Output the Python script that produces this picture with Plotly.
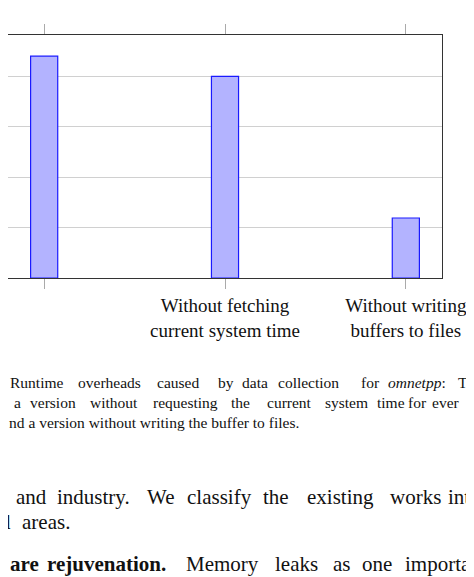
import plotly.graph_objects as go

categories = ["Complete<br>version", "Without fetching<br>current system time", "Without writing<br>buffers to files"]
overheads = [4.4, 4.0, 1.19]
y_ticks = [0, 1, 2, 3, 4]

W, H = 474, 577
L, R, T, B = 0, 434, 27, 270

def px(x):
    return (x - L) / (R - L)

def py(y):
    return (B - y) / (B - T)

fig = go.Figure(go.Bar(
    x=[0, 1, 2], y=overheads, width=0.15,
    marker=dict(color="#b3b3ff", line=dict(color="#1a1aff", width=1.2)),
))

serif = "Liberation Serif"
ann = []
def word(x, y, t, size, anchor="left"):
    ann.append(dict(xref="paper", yref="paper", x=px(x), y=py(y), text=t,
                    showarrow=False, xanchor=anchor, yanchor="middle",
                    font=dict(family=serif, size=size, color="#111")))

cap1 = [(0, "Runtime"), (68, "overheads"), (147, "caused"), (208, "by"), (232, "data"),
        (268, "collection"), (351, "for"), (378, "<i>omnetpp</i>:"), (448, "Th")]
cap2 = [(4, "a"), (20, "version"), (80, "without"), (143, "requesting"), (221, "the"),
        (257, "current"), (315, "system"), (367, "time"), (398, "for"), (422, "ever")]
for x, t in cap1: word(x, 374, t, 15.5)
for x, t in cap2: word(x, 394, t, 15.5)
word(-1, 414, "nd a version without writing the buffer to files.", 15.5)

body1 = [(6, "and"), (47, "industry."), (137, "We"), (177, "classify"), (253, "the"),
         (297, "existing"), (380, "works"), (438, "into")]
for x, t in body1: word(x, 489, t, 21)
word(5, 514, "d", 21, anchor="right")
word(12, 514, "areas.", 21)
body3 = [(0, "<b>are</b>"), (37, "<b>rejuvenation.</b>"), (176, "Memory"), (265, "leaks"),
         (323, "as"), (352, "one"), (395, "important")]
for x, t in body3: word(x, 556, t, 21)

fig.update_layout(
    width=W, height=H, margin=dict(l=L, r=W - R, t=T, b=H - B, autoexpand=False),
    paper_bgcolor="white", plot_bgcolor="white", showlegend=False,
    annotations=ann,
    xaxis=dict(range=[-0.2, 2.2], tickvals=[0, 1, 2], ticktext=categories,
               ticks="outside", ticklen=10, tickcolor="#aaa", mirror="ticks",
               showline=True, linecolor="#333", linewidth=1, showgrid=False,
               automargin=False,
               tickfont=dict(family=serif, size=19, color="#111")),
    yaxis=dict(range=[0, 4.82], tickvals=y_ticks, showticklabels=False,
               showline=True, linecolor="#333", linewidth=1, mirror=True,
               gridcolor="#d0d0d0", zeroline=False, automargin=False),
)
fig.write_html("out.html")
